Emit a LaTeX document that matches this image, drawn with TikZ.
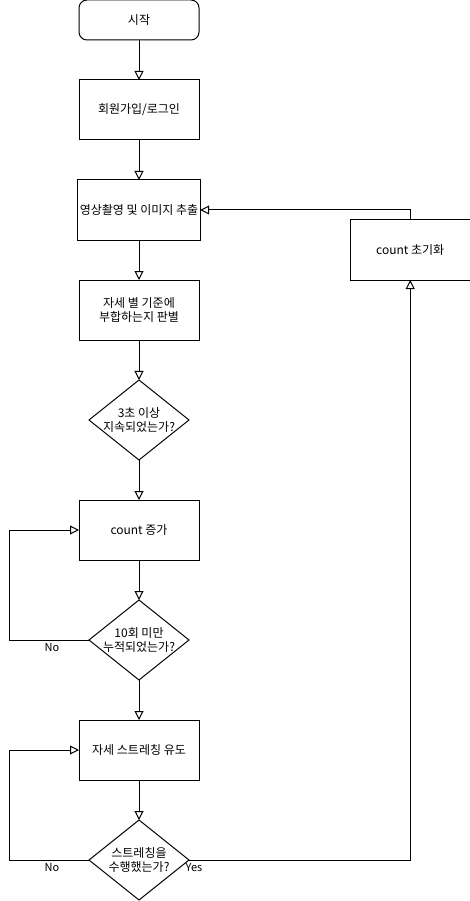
\documentclass[tikz,border=0pt]{standalone}
\usepackage{fontspec}
\setmainfont{Noto Sans CJK KR}
\usetikzlibrary{arrows.meta,positioning,shapes.geometric}
\tikzset{every picture/.style={line width=1pt}}

\begin{document}
\begin{tikzpicture}[node distance=40pt, font=\fontsize{12}{14}\selectfont,
    box/.style={draw, minimum width=120pt, minimum height=60pt, inner sep=2pt, outer sep=0pt, align=center},
    decision/.style={draw, diamond, minimum width=100pt, minimum height=80pt, inner sep=0pt, outer sep=0pt},
    flow/.style={-{Triangle[open, length=9pt, width=9pt]}},
    tag/.style={font=\fontsize{11}{13}\selectfont}]
    \useasboundingbox (0,0) rectangle (470pt,-901pt);

    \node[box, rounded corners=8pt, minimum height=40pt] (START) at (139pt,-20pt) {시작};
    \node[box, below=of START] (LOGIN) {회원가입/로그인};
    \node[box, below=of LOGIN] (CAPTURE) {영상촬영 및 이미지 추출};
    \node[box, below=of CAPTURE] (JUDGE) {자세 별 기준에 \\ 부합하는지 판별};
    \node[decision, below=of JUDGE, label={[align=center]center:3초 이상\\지속되었는가?}] (HOLD) {};
    \node[box, below=of HOLD] (COUNT) {count 증가};
    \node[decision, below=of COUNT, label={[align=center]center:10회 미만\\누적되었는가?}] (LIMIT) {};
    \node[box, below=of LIMIT] (STRETCH) {자세 스트레칭 유도};
    \node[decision, below=of STRETCH, label={[align=center]center:스트레칭을\\수행했는가?}] (DONE) {};

    \node[box, right=150pt of CAPTURE, yshift=-40pt] (RESET) {count 초기화};

    \draw[flow] (START) -- (LOGIN);
    \draw[flow] (LOGIN) -- (CAPTURE);
    \draw[flow] (CAPTURE) -- (JUDGE);
    \draw[flow] (JUDGE) -- (HOLD);
    \draw[flow] (HOLD) -- (COUNT);
    \draw[flow] (COUNT) -- (LIMIT);
    \draw[flow] (LIMIT) -- (STRETCH);
    \draw[flow] (STRETCH) -- (DONE);

    % loops back on No
    \draw[flow] (LIMIT.west) -- ++(-80pt,0) node[midway, below, tag, xshift=3pt] {No} |- (COUNT.west);
    \draw[flow] (DONE.west) -- ++(-80pt,0) node[midway, below, tag, xshift=3pt] {No} |- (STRETCH.west);

    % Yes goes back to capture
    \draw[flow] (DONE.east) node[below, xshift=5pt, tag] {Yes} -| (RESET.south);
    \draw[flow] (RESET.north) |- (CAPTURE.east);
\end{tikzpicture}
\end{document}
